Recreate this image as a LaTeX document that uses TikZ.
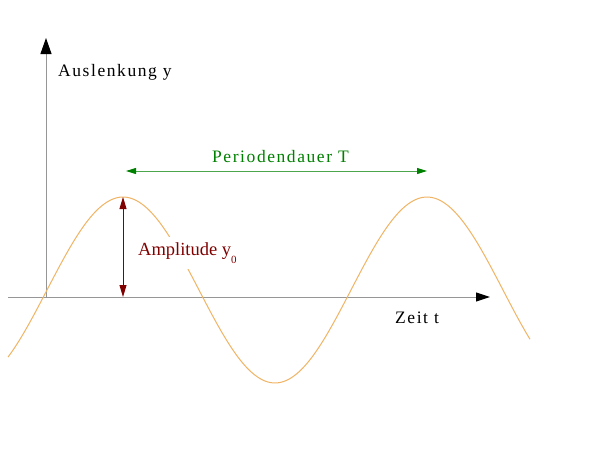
\documentclass[tikz,border=0pt]{standalone}
\usepackage{fontspec}
\setmainfont{Liberation Serif}
\usetikzlibrary{arrows.meta}
\definecolor{axisgray}{RGB}{150,150,150}
\definecolor{curveorange}{RGB}{240,180,100}
\definecolor{ampred}{RGB}{128,0,0}
\definecolor{pergreen}{RGB}{0,128,0}
\newfontfamily\spaced[LetterSpace=9]{Liberation Serif}
\tikzset{
  axisline/.style={draw=axisgray, line width=1pt},
  curveline/.style={draw=curveorange, line width=1pt},
  lbl/.style={inner sep=0pt, anchor=base west, font=\spaced\fontsize{17.5}{19}\selectfont},
  amparrow/.style={draw=ampred, line width=0.9pt, {Triangle[length=12pt,width=7pt]}-{Triangle[length=12pt,width=7pt]}},
  perarrow/.style={draw=pergreen!70, line width=0.9pt, {Triangle[length=10pt,width=6pt,color=pergreen]}-{Triangle[length=10pt,width=6pt,color=pergreen]}}
}
\begin{document}
\begin{tikzpicture}[x=1pt,y=-1pt]
\useasboundingbox[fill=white] (0,0) rectangle (600,450);
% axes
\coordinate (o) at (46,297);
\coordinate (ytip) at (46,38);
\coordinate (xl) at (8,297);
\coordinate (xtip) at (490,297);
\draw[axisline, -{Triangle[length=16pt,width=11pt,color=black]}] (o) -- (ytip);
\draw[axisline, -{Triangle[length=14pt,width=9pt,color=black]}] (xl) -- (xtip);
% sine curve
\draw[curveline] plot[domain=8:530, samples=160, smooth] (\x, {290 - 93*cos(1.18421*(\x-123))});
% labels
\node[lbl] (ylab) at (58,76) {Auslenkung y};
\node[lbl] (xlab) at (395,323) {Zeit t};
\node[lbl, text=pergreen] (plab) at (212,162) {Periodendauer T};
\node[inner xsep=2pt, inner ysep=5pt, fill=white, anchor=base west, text=ampred,
      font=\fontsize{18.5}{20}\selectfont] (alab) at (136,255)
      {Amplitude y\raisebox{-8.5pt}{\fontsize{11}{12}\selectfont 0}};
% amplitude arrow
\coordinate (atop) at (123,197);
\coordinate (abot) at (123,297);
\draw[amparrow] (atop) -- (abot);
% period arrow
\coordinate (pl) at (126,171);
\coordinate (pr) at (427,171);
\draw[perarrow] (pl) -- (pr);
\end{tikzpicture}
\end{document}
